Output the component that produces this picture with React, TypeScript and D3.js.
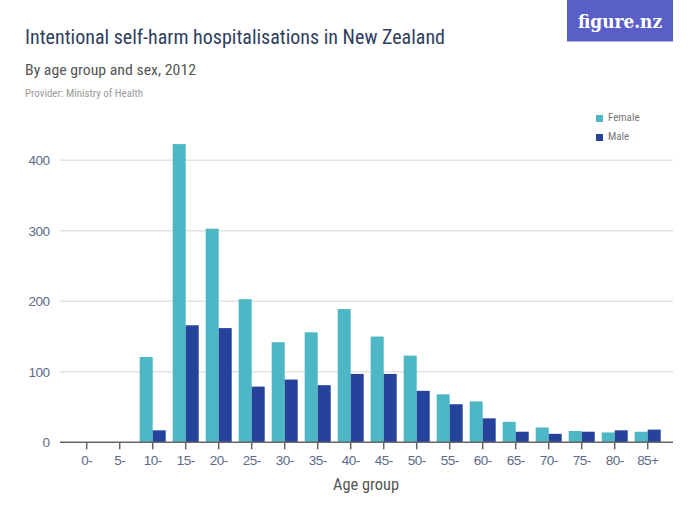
import React from "react";
import * as d3 from "d3";

const categories = ["0-", "5-", "10-", "15-", "20-", "25-", "30-", "35-", "40-", "45-", "50-", "55-", "60-", "65-", "70-", "75-", "80-", "85+"];
const female = [0, 0, 121, 423, 303, 203, 142, 156, 189, 150, 123, 68, 58, 29, 21, 16, 14, 15];
const male = [0, 0, 17, 166, 162, 79, 89, 81, 97, 97, 73, 54, 34, 15, 12, 15, 17, 18];
const seriesNames = ["Female", "Male"];
const seriesColors = ["#4eb7c5", "#26439b"];
const yTicks = [0, 100, 200, 300, 400];

const W = 700;
const H = 525;

export default function App() {
  const x = d3.scaleBand<string>().domain(categories).range([70.2, 664.2]).paddingInner(0.212).paddingOuter(0.106);
  const xs = d3.scaleBand<string>().domain(seriesNames).range([0, x.bandwidth()]);
  const y = d3.scaleLinear().domain([0, 400]).range([442.3, 160.3]);
  const data = [female, male];
  const font = "'Liberation Sans Narrow', 'Roboto Condensed', 'Liberation Sans', Arial, sans-serif";
  const tickFont = "'Liberation Sans', Arial, sans-serif";
  const logoFont = "'DejaVu Serif', 'Liberation Serif', serif";

  return (
    <svg width={W} height={H} style={{ position: "absolute", left: 0, top: 0, background: "#fff" }}>
      <rect x={0} y={0} width={W} height={H} fill="#fff" />
      {/* logo */}
      <rect x={567} y={0} width={106} height={41} fill="#5a5fc8" />
      <rect x={567} y={41} width={106} height={1} fill="#aeb0e4" />
      <text x={578} y={28} fill="#fff" fontFamily={logoFont} fontWeight="bold" fontSize={19} textLength={84} lengthAdjust="spacingAndGlyphs">figure.nz</text>

      {/* titles */}
      <text x={25} y={44} fill="#2f3e5e" fontFamily={font} fontSize={20} textLength={420} lengthAdjust="spacingAndGlyphs">Intentional self-harm hospitalisations in New Zealand</text>
      <text x={25} y={75} fill="#555" fontFamily={font} fontSize={15} textLength={171} lengthAdjust="spacingAndGlyphs">By age group and sex, 2012</text>
      <text x={25} y={97} fill="#999" fontFamily={font} fontSize={10} textLength={118} lengthAdjust="spacingAndGlyphs">Provider: Ministry of Health</text>

      {/* gridlines */}
      {yTicks.filter((t) => t > 0).map((t) => (
        <line key={t} x1={60} x2={673} y1={y(t)} y2={y(t)} stroke="#e3e3e3" strokeWidth={1.5} />
      ))}
      {/* y labels */}
      {yTicks.map((t) => (
        <text key={t} x={49.5} y={y(t) + 5} textAnchor="end" fill="#5b6a88" fontFamily={tickFont} fontSize={13.5} letterSpacing={-0.5}>{t}</text>
      ))}

      {/* bars */}
      {categories.map((c, i) => (
        <g key={c} transform={`translate(${x(c)},0)`}>
          {seriesNames.map((s, j) => {
            const v = data[j][i];
            if (!v) return null;
            return <rect key={s} x={xs(s)} y={y(v)} width={xs.bandwidth()} height={y(0) - y(v)} fill={seriesColors[j]} />;
          })}
        </g>
      ))}

      {/* axis */}
      <line x1={60} x2={673} y1={y(0)} y2={y(0)} stroke="#666" strokeWidth={1.5} />
      {categories.map((c) => {
        const cx = (x(c) as number) + x.bandwidth() / 2;
        return (
          <g key={c}>
            <line x1={cx} x2={cx} y1={y(0)} y2={y(0) + 7} stroke="#666" strokeWidth={1.5} />
            <text x={cx} y={465} textAnchor="middle" fill="#5b6a88" fontFamily={tickFont} fontSize={13.5} letterSpacing={-0.6}>{c}</text>
          </g>
        );
      })}
      <text x={366} y={490} textAnchor="middle" fill="#555" fontFamily={font} fontSize={16} textLength={66} lengthAdjust="spacingAndGlyphs">Age group</text>

      {/* legend */}
      {seriesNames.map((s, j) => (
        <g key={s}>
          <rect x={596} y={115 + j * 19} width={7} height={7} fill={seriesColors[j]} />
          <text x={608} y={121 + j * 19} fill="#777" fontFamily={font} fontSize={11}>{s}</text>
        </g>
      ))}
    </svg>
  );
}
